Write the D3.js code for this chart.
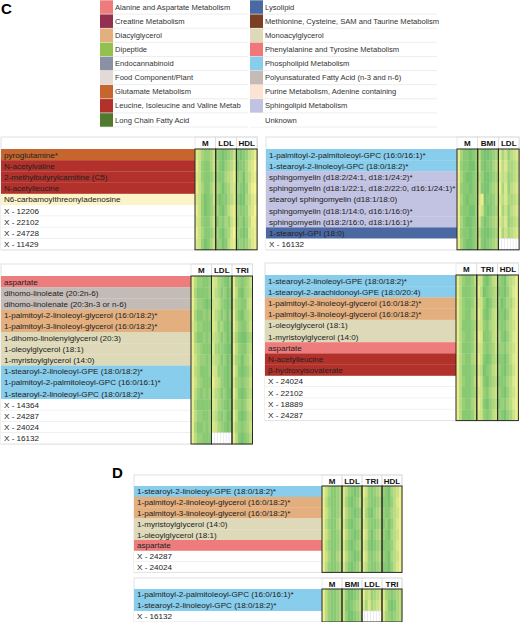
<!DOCTYPE html>
<html>
<head>
<meta charset="utf-8">
<script src="https://cdn.jsdelivr.net/npm/d3@7"></script>
<style>
  body { margin: 0; background: #fff; }
  svg { display: block; font-family: "Liberation Sans", Arial, sans-serif; }
</style>
</head>
<body>
<div id="chart"></div>
<script>
// category names (as in the legend)
const ALA = "Alanine and Aspartate Metabolism";
const CRE = "Creatine Metabolism";
const DAG = "Diacylglycerol";
const DIP = "Dipeptide";
const ENDO = "Endocannabinoid";
const FOOD = "Food Component/Plant";
const GLU = "Glutamate Metabolism";
const LEU = "Leucine, Isoleucine and Valine Metab";
const LCFA = "Long Chain Fatty Acid";
const LYSO = "Lysolipid";
const MET = "Methionine, Cysteine, SAM and Taurine Metabolism";
const MAG = "Monoacylglycerol";
const PHE = "Phenylalanine and Tyrosine Metabolism";
const PHOS = "Phospholipid Metabolism";
const PUFA = "Polyunsaturated Fatty Acid (n-3 and n-6)";
const PUR = "Purine Metabolism, Adenine containing";
const SPH = "Sphingolipid Metabolism";
const UNK = "Unknown";

const legendLeft = [ALA, CRE, DAG, DIP, ENDO, FOOD, GLU, LEU, LCFA];
const legendRight = [LYSO, MET, MAG, PHE, PHOS, PUFA, PUR, SPH, UNK];

// heat values: one string per row, 7 samples per group, 0 = yellow .. 9 = green, "-" = missing
const c1Groups = ["M", "LDL", "HDL"];
const c1Labels = ["pyroglutamine*", "N-acetylvaline", "2-methylbutyrylcarnitine (C5)", "N-acetylleucine",
  "N6-carbamoylthreonyladenosine", "X - 12206", "X - 22102", "X - 24728", "X - 11429"];
const c1Cats = [GLU, LEU, LEU, LEU, PUR, UNK, UNK, UNK, UNK];
const c1Heat = [
  "2356653 6787653 7876431",
  "1367753 5786542 8775320",
  "2367764 6775431 7685421",
  "1357753 5686532 6786310",
  "2368763 6877542 7885421",
  "1368764 5786421 6776320",
  "2367753 7675631 7686411",
  "1357764 5786520 6787321",
  "2368753 6687421 7676421"
];

const c2Groups = ["M", "BMI", "LDL"];
const c2Labels = ["1-palmitoyl-2-palmitoleoyl-GPC (16:0/16:1)*", "1-stearoyl-2-linoleoyl-GPC (18:0/18:2)*",
  "sphingomyelin (d18:2/24:1, d18:1/24:2)*", "sphingomyelin (d18:1/22:1, d18:2/22:0, d16:1/24:1)*",
  "stearoyl sphingomyelin (d18:1/18:0)", "sphingomyelin (d18:1/14:0, d16:1/16:0)*",
  "sphingomyelin (d18:2/16:0, d18:1/16:1)*", "1-stearoyl-GPI (18:0)", "X - 16132"];
const c2Cats = [PHOS, PHOS, SPH, SPH, SPH, SPH, SPH, LYSO, UNK];
const c2Heat = [
  "1577876 4788765 2536432",
  "1677886 3787754 1425543",
  "1578876 4688765 2436543",
  "1677876 3788654 1526432",
  "1578776 2187764 2425543",
  "1677886 1378765 1536432",
  "1578876 2687654 2426543",
  "1677876 4788765 1535432",
  "1578876 3787654 -------"
];

const c3Groups = ["M", "LDL", "TRI"];
const c3Labels = ["aspartate", "dihomo-linoleate (20:2n-6)", "dihomo-linolenate (20:3n-3 or n-6)",
  "1-palmitoyl-2-linoleoyl-glycerol (16:0/18:2)*", "1-palmitoyl-3-linoleoyl-glycerol (16:0/18:2)*",
  "1-dihomo-linolenylglycerol (20:3)", "1-oleoylglycerol (18:1)", "1-myristoylglycerol (14:0)",
  "1-stearoyl-2-linoleoyl-GPE (18:0/18:2)*", "1-palmitoyl-2-palmitoleoyl-GPC (16:0/16:1)*",
  "1-stearoyl-2-linoleoyl-GPC (18:0/18:2)*", "X - 14364", "X - 24287", "X - 24024", "X - 16132"];
const c3Cats = [ALA, PUFA, PUFA, DAG, DAG, MAG, MAG, MAG, PHOS, PHOS, PHOS, UNK, UNK, UNK, UNK];
const c3Heat = [
  "1466776 2356786 1567653",
  "1577776 2457687 1478654",
  "1466787 3346787 2567743",
  "1577676 2457686 1578654",
  "2466777 2365787 1467753",
  "1577676 3457687 2578865",
  "1456777 2566788 1467754",
  "1356676 3457687 2568653",
  "1457776 2366787 1478764",
  "1356777 1346787 2567653",
  "1467676 2457688 1478754",
  "1577777 2356787 2567643",
  "1466776 3467688 1478754",
  "1577676 2356787 2567653",
  "1466777 ------- 1478764"
];

const c4Groups = ["M", "TRI", "HDL"];
const c4Labels = ["1-stearoyl-2-linoleoyl-GPE (18:0/18:2)*", "1-stearoyl-2-arachidonoyl-GPE (18:0/20:4)",
  "1-palmitoyl-2-linoleoyl-glycerol (16:0/18:2)*", "1-palmitoyl-3-linoleoyl-glycerol (16:0/18:2)*",
  "1-oleoylglycerol (18:1)", "1-myristoylglycerol (14:0)", "aspartate", "N-acetylleucine",
  "\u03b2-hydroxyisovalerate", "X - 24024", "X - 22102", "X - 18889", "X - 24287"];
const c4Cats = [PHOS, PHOS, DAG, DAG, MAG, MAG, ALA, LEU, LEU, UNK, UNK, UNK, UNK];
const c4Heat = [
  "1467764 2378643 6785431",
  "1477765 1487654 7786421",
  "1467764 2368754 6875531",
  "1467754 1378643 7786421",
  "1477765 2367543 6775431",
  "1467764 1277643 5786421",
  "1477764 2367653 6675431",
  "1467754 1378754 7786421",
  "1477765 2487643 6786531",
  "1467764 1378654 7775421",
  "1477765 2367543 6786431",
  "1467754 1378654 7675421",
  "1477764 2367643 6786531"
];

const d1Groups = ["M", "LDL", "TRI", "HDL"];
const d1Labels = ["1-stearoyl-2-linoleoyl-GPE (18:0/18:2)*", "1-palmitoyl-2-linoleoyl-glycerol (16:0/18:2)*",
  "1-palmitoyl-3-linoleoyl-glycerol (16:0/18:2)*", "1-myristoylglycerol (14:0)", "1-oleoylglycerol (18:1)",
  "aspartate", "X - 24287", "X - 24024"];
const d1Cats = [PHOS, DAG, DAG, MAG, MAG, ALA, UNK, UNK];
const d1Heat = [
  "1357765 2467875 1367654 6785431",
  "1467765 2578764 2467765 7786421",
  "1357765 1467876 1578654 6775431",
  "1467754 2578765 2467765 7686421",
  "1357765 1467876 1368654 6785431",
  "1467765 2578765 2478765 7776421",
  "1357754 1467876 1367654 6785431",
  "1467765 2578764 2467765 7786421"
];

const d2Groups = ["M", "BMI", "LDL", "TRI"];
const d2Labels = ["1-palmitoyl-2-palmitoleoyl-GPC (16:0/16:1)*", "1-stearoyl-2-linoleoyl-GPC (18:0/18:2)*", "X - 16132"];
const d2Cats = [PHOS, PHOS, UNK];
const d2Heat = [
  "1467765 3688764 1436543 2567654",
  "1467765 3787654 2525432 1478754",
  "1467765 3688765 ------- 2567654"
];

const WIDTH = 520, HEIGHT = 622;

const catColor = d3.scaleOrdinal()
  .domain([...legendLeft, ...legendRight])
  .range(["#ef7c7c", "#93304f", "#e4af7e", "#92c150", "#8c90a4", "#e3dad7", "#c6652e", "#b3312b", "#4f7a30",
          "#4a69a3", "#7b3f25", "#dedab9", "#f07878", "#88cdeb", "#c5bbb6", "#fde3d2", "#c2c2e2", "#ffffff"]);
// row fill is a touch more yellow than the purine swatch in the picture
const rowColor = (cat) => (cat === PUR ? "#fdf3c8" : catColor(cat));

const heatColor = d3.scaleLinear()
  .domain([0, 9])
  .range(["#fcf492", "#69bd6c"])
  .interpolate(d3.interpolateRgb);

const svg = d3.select("#chart").append("svg")
  .attr("width", WIDTH)
  .attr("height", HEIGHT);

// panel letters
svg.append("text").attr("x", 1).attr("y", 14).attr("font-size", 15).attr("font-weight", "bold").text("C");
svg.append("text").attr("x", 112).attr("y", 478).attr("font-size", 15).attr("font-weight", "bold").text("D");

// legend
const drawLegend = (items, swX, lineEnd) => {
  const y = d3.scaleBand().domain(d3.range(items.length)).range([0, 127]);
  const g = svg.append("g");
  items.forEach((name, i) => {
    g.append("line")
      .attr("x1", swX).attr("x2", lineEnd)
      .attr("y1", y(i) + y.bandwidth()).attr("y2", y(i) + y.bandwidth())
      .attr("stroke", "#e8e8e8").attr("stroke-width", 0.8);
    g.append("rect")
      .attr("x", swX).attr("y", y(i) + 0.3)
      .attr("width", 13).attr("height", y.bandwidth() - 0.6)
      .attr("fill", catColor(name));
    g.append("text")
      .attr("x", swX + 15).attr("y", y(i) + y.bandwidth() / 2)
      .attr("dy", "0.35em").attr("font-size", 7.6).attr("fill", "#333")
      .text(name);
  });
};
drawLegend(legendLeft, 100, 248);
drawLegend(legendRight, 250, 437);

// one table: label column + header + heat groups
const drawTable = (cfg, labels, cats, groups, heat) => {
  const { x, y, labelW, groupW, headerH, rowH } = cfg;
  const top = y + headerH;
  const bottom = top + labels.length * rowH;
  const heatX0 = x + labelW;
  const heatX1 = heatX0 + groups.length * groupW;

  const row = d3.scaleBand().domain(d3.range(labels.length)).range([top, bottom]);
  const grp = d3.scaleBand().domain(groups).range([heatX0, heatX1]);
  const sub = d3.scaleBand().domain(d3.range(7)).range([0, grp.bandwidth()]);

  const g = svg.append("g");

  // outer frame and header
  g.append("rect")
    .attr("x", x).attr("y", y).attr("width", heatX1 - x).attr("height", bottom - y)
    .attr("fill", "#fff").attr("stroke", "#dadada").attr("stroke-width", 0.8);
  groups.forEach((name) => {
    g.append("rect")
      .attr("x", grp(name)).attr("y", y).attr("width", grp.bandwidth()).attr("height", headerH)
      .attr("fill", "none").attr("stroke", "#dadada").attr("stroke-width", 0.6);
    g.append("text")
      .attr("x", grp(name) + grp.bandwidth() / 2).attr("y", y + headerH / 2 + 0.5)
      .attr("dy", "0.35em").attr("text-anchor", "middle")
      .attr("font-size", 8).attr("font-weight", "bold").attr("fill", "#111")
      .text(name);
  });

  // label rows
  labels.forEach((label, i) => {
    g.append("rect")
      .attr("x", x).attr("y", row(i)).attr("width", labelW).attr("height", row.bandwidth() + 0.2)
      .attr("fill", rowColor(cats[i]));
    if (cats[i] === UNK) {
      g.append("line")
        .attr("x1", x).attr("x2", heatX0)
        .attr("y1", row(i) + row.bandwidth()).attr("y2", row(i) + row.bandwidth())
        .attr("stroke", "#dcdcdc").attr("stroke-width", 0.8);
    }
    g.append("text")
      .attr("x", x + 3).attr("y", row(i) + row.bandwidth() / 2)
      .attr("dy", "0.36em").attr("font-size", 8.1).attr("fill", "#222")
      .text(label);
  });

  // heat cells
  heat.forEach((line, i) => {
    line.split(" ").forEach((cells, gi) => {
      const gx = grp(groups[gi]);
      cells.split("").forEach((c, k) => {
        const missing = c === "-";
        g.append("rect")
          .attr("x", gx + sub(k)).attr("y", row(i))
          .attr("width", sub.bandwidth() + (missing ? 0 : 0.3))
          .attr("height", row.bandwidth() + 0.3)
          .attr("fill", missing ? "#fff" : heatColor(+c))
          .attr("stroke", missing ? "#e0e0e0" : "none")
          .attr("stroke-width", 0.5);
      });
    });
  });

  // dark frames round each group
  groups.forEach((name) => {
    g.append("rect")
      .attr("x", grp(name)).attr("y", top).attr("width", grp.bandwidth()).attr("height", bottom - top)
      .attr("fill", "none").attr("stroke", "#2a2a2a").attr("stroke-width", 1);
  });
};

drawTable({ x: 1, y: 137, labelW: 194, groupW: 20.7, headerH: 12, rowH: 11.2 }, c1Labels, c1Cats, c1Groups, c1Heat);
drawTable({ x: 266, y: 137, labelW: 191, groupW: 20.7, headerH: 12, rowH: 11.2 }, c2Labels, c2Cats, c2Groups, c2Heat);
drawTable({ x: 1, y: 264, labelW: 190, groupW: 20.5, headerH: 12, rowH: 11.2 }, c3Labels, c3Cats, c3Groups, c3Heat);
drawTable({ x: 265, y: 263, labelW: 191, groupW: 20.8, headerH: 12, rowH: 11.2 }, c4Labels, c4Cats, c4Groups, c4Heat);
drawTable({ x: 134, y: 475, labelW: 188, groupW: 20, headerH: 11, rowH: 10.8 }, d1Labels, d1Cats, d1Groups, d1Heat);
drawTable({ x: 134, y: 578, labelW: 188, groupW: 20, headerH: 11, rowH: 11 }, d2Labels, d2Cats, d2Groups, d2Heat);
</script>
</body>
</html>
